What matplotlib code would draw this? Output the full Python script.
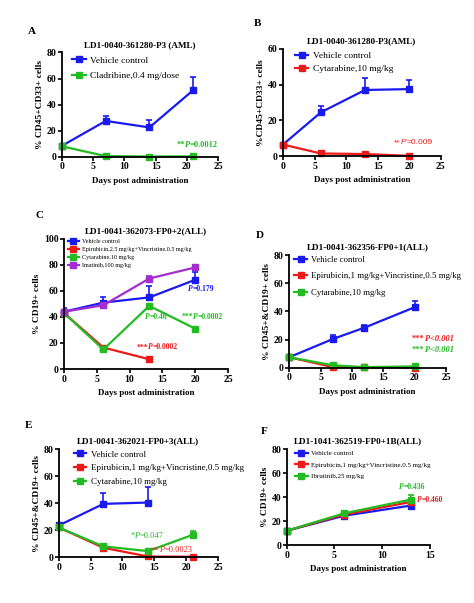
import matplotlib
matplotlib.use('Agg')
import matplotlib.pyplot as plt

plt.rcParams['font.family'] = ['Liberation Serif', 'DejaVu Serif']
plt.rcParams['font.weight'] = 'bold'

BLUE = '#1a1aee'
RED = '#ee1a1a'
GREEN = '#22bb22'
PURPLE = '#a22ed0'

# Panel A
a_days = [0, 7, 14, 21]
a_vehicle = [8.5, 27.5, 22.5, 51]
a_vehicle_err = [0.8, 4, 5.5, 10]
a_clad = [8, 0.5, 0.2, 0.3]

# Panel B
b_days = [0, 6, 13, 20]
b_vehicle = [6.5, 24.5, 37, 37.5]
b_vehicle_err = [0.5, 3.4, 6.7, 4.9]
b_cyt = [6.5, 1.5, 1.2, 0.2]

# Panel C
c_days = [0, 6, 13, 20]
c_vehicle = [44, 51, 55, 68.5]
c_vehicle_err = [2.5, 4.3, 9, 6.3]
c_epi_days = [0, 6, 13]
c_epi = [43, 16.5, 7.5]
c_cyt = [43, 15, 48.5, 31]
c_ima = [44, 49, 69.5, 78]
c_ima_err = [1, 1.5, 2.3, 1.5]

# Panel D
d_days = [0, 7, 12, 20]
d_vehicle = [7.5, 20.5, 28.5, 43]
d_vehicle_err = [0.5, 2.7, 1.9, 4.5]
d_epi = [7.5, 0.5, 0.3, 0.2]
d_cyt = [7.5, 1.8, 0.5, 1.0]

# Panel E
e_veh_days = [0, 7, 14]
e_vehicle = [23.5, 39.5, 40.5]
e_vehicle_err = [2, 7.8, 11.7]
e_days = [0, 7, 14, 21]
e_epi = [22, 7, 0.5, 0.3]
e_cyt = [22, 8, 4.5, 16.5]
e_cyt_err = [0.5, 1, 1, 3.2]

# Panel F
f_days = [0, 6, 13]
f_vehicle = [12, 24.5, 33]
f_epi = [12, 25.5, 36]
f_ibr = [12, 26.5, 38]
f_ibr_err = [0.5, 1.5, 4]

fig = plt.figure(figsize=(4.74, 6.03), dpi=100)
W, H = 474.0, 603.0


def make_ax(rect, xmax, xstep, ymax, ystep, ylabel, title, letter, letter_xy, xlabel=True):
    ax = fig.add_axes(rect)
    ax.set_xlim(0, xmax)
    ax.set_ylim(0, ymax)
    ax.set_xticks(range(0, xmax + 1, xstep))
    ax.set_yticks(range(0, ymax + 1, ystep))
    for s in ['top', 'right']:
        ax.spines[s].set_visible(False)
    for s in ['left', 'bottom']:
        ax.spines[s].set_linewidth(1.3)
    ax.tick_params(width=1.2, length=3, labelsize=7, pad=1)
    for lab in ax.get_xticklabels() + ax.get_yticklabels():
        lab.set_fontweight('bold')
    ax.set_ylabel(ylabel, fontsize=6.8, fontweight='bold', labelpad=2)
    if xlabel:
        ax.set_xlabel('Days post administration', fontsize=6.5, fontweight='bold', labelpad=4)
    ax.set_title(title, fontsize=6.6, fontweight='bold', pad=4)
    fig.text(letter_xy[0] / W, 1 - letter_xy[1] / H, letter, fontsize=8, fontweight='bold',
             ha='center', va='center')
    return ax


def series(ax, x, y, color, label, err=None):
    if err is not None:
        ax.errorbar(x, y, yerr=[[0] * len(err), err], color=color, lw=0, elinewidth=1.2,
                    capsize=2, capthick=1.2)
    ax.plot(x, y, color=color, lw=1.6, marker='s', ms=4, label=label, clip_on=False)


def rich(ax, x, y, parts, color, size, family='Liberation Serif', weight='bold'):
    # parts: list of (text, style) pieces drawn one after another
    t = ax.text(x, y, parts[0][0], color=color, fontsize=size, fontstyle=parts[0][1],
                family=family, fontweight=weight, va='bottom')
    for s, style in parts[1:]:
        t = ax.annotate(s, xy=(1, 0), xycoords=t, va='bottom', ha='left', color=color,
                        fontsize=size, fontstyle=style, family=family, fontweight=weight)


def legend(ax, anchor, size, spacing, hl=1.4):
    ax.legend(loc='upper left', bbox_to_anchor=anchor, frameon=False, handlelength=hl,
              handletextpad=0.5, labelspacing=spacing, borderaxespad=0.2,
              prop={'weight': 'normal', 'size': size, 'family': 'Liberation Serif'})


# A
ax = make_ax([0.131, 0.740, 0.329, 0.173], 25, 5, 80, 20, '% CD45+CD33+ cells',
             'LD1-0040-361280-P3 (AML)', 'A', (32, 32))
series(ax, a_days, a_vehicle, BLUE, 'Vehicle control', a_vehicle_err)
series(ax, a_days, a_clad, GREEN, 'Cladribine,0.4 mg/dose')
legend(ax, (0.03, 1.02), 6.8, 0.75)
rich(ax, 18.3, 6, [('**', 'normal'), ('P', 'italic'), ('=0.0012', 'normal')], GREEN, 6)

# B
ax = make_ax([0.597, 0.741, 0.333, 0.178], 25, 5, 60, 20, '%CD45+CD33+ cells',
             'LD1-0040-361280-P3(AML)', 'B', (258, 24))
series(ax, b_days, b_vehicle, BLUE, 'Vehicle control', b_vehicle_err)
series(ax, b_days, b_cyt, RED, 'Cytarabine,10 mg/kg')
legend(ax, (0.04, 1.03), 6.8, 0.5)
rich(ax, 17.6, 5.5, [('**', 'normal'), ('P', 'italic'), ('=0.009', 'normal')], RED, 6,
     family='Liberation Sans', weight='normal')

# C
ax = make_ax([0.135, 0.388, 0.346, 0.216], 25, 5, 100, 20, '% CD19+ cells',
             'LD1-0041-362073-FP0+2(ALL)', 'C', (40, 216))
series(ax, c_days, c_vehicle, BLUE, 'Vehicle control', c_vehicle_err)
series(ax, c_epi_days, c_epi, RED, 'Epirubicin,2.5 mg/kg+Vincristine,0.5 mg/kg')
series(ax, c_days, c_cyt, GREEN, 'Cytarabine,10 mg/kg')
series(ax, c_days, c_ima, PURPLE, 'Imatinib,100 mg/kg', c_ima_err)
legend(ax, (0.0, 1.03), 4.4, 0.45, hl=1.8)
rich(ax, 18.9, 58, [('P', 'italic'), ('=0.179', 'normal')], BLUE, 5.5)
rich(ax, 12.4, 37, [('P', 'italic'), ('=0.46', 'normal')], GREEN, 5.5)
rich(ax, 17.9, 37, [('***', 'normal'), ('P', 'italic'), ('=0.0002', 'normal')], GREEN, 5.5)
rich(ax, 11.1, 13.5, [('***', 'normal'), ('P', 'italic'), ('=0.0002', 'normal')], RED, 5.5)

# D
ax = make_ax([0.610, 0.390, 0.331, 0.187], 25, 5, 80, 20, '% CD45+&CD19+ cells',
             'LD1-0041-362356-FP0+1(ALL)', 'D', (260, 236))
series(ax, d_days, d_vehicle, BLUE, 'Vehicle control', d_vehicle_err)
series(ax, d_days, d_epi, RED, 'Epirubicin,1 mg/kg+Vincristine,0.5 mg/kg')
series(ax, d_days, d_cyt, GREEN, 'Cytarabine,10 mg/kg')
legend(ax, (0.0, 1.04), 6.3, 0.95)
rich(ax, 19.6, 17.5, [('***', 'normal'), ('P<0.001', 'italic')], RED, 6)
rich(ax, 19.6, 10, [('***', 'normal'), ('P<0.001', 'italic')], GREEN, 6)

# E
ax = make_ax([0.124, 0.076, 0.336, 0.179], 25, 5, 80, 20, '% CD45+&CD19+ cells',
             'LD1-0041-362021-FP0+3(ALL)', 'E', (29, 425), xlabel=False)
series(ax, e_veh_days, e_vehicle, BLUE, 'Vehicle control', e_vehicle_err)
series(ax, e_days, e_epi, RED, 'Epirubicin,1 mg/kg+Vincristine,0.5 mg/kg')
series(ax, e_days, e_cyt, GREEN, 'Cytarabine,10 mg/kg', e_cyt_err)
legend(ax, (0.06, 1.04), 6.5, 0.6)
rich(ax, 11.2, 13, [('*', 'normal'), ('P', 'italic'), ('=0.047', 'normal')], GREEN, 6,
     weight='normal')
rich(ax, 14.4, 2, [('**', 'normal'), ('P', 'italic'), ('=0.0023', 'normal')], RED, 6,
     weight='normal')

# F
ax = make_ax([0.605, 0.096, 0.302, 0.159], 15, 5, 80, 20, '% CD19+ cells',
             'LD1-1041-362519-FP0+1B(ALL)', 'F', (264, 432))
series(ax, f_days, f_vehicle, BLUE, 'Vehicle control')
series(ax, f_days, f_epi, RED, 'Epirubicin,1 mg/kg+Vincristine,0.5 mg/kg')
series(ax, f_days, f_ibr, GREEN, 'Ibrutinib,25 mg/kg', f_ibr_err)
legend(ax, (0.03, 1.03), 5, 0.8, hl=1.8)
rich(ax, 11.8, 45, [('P', 'italic'), ('=0.436', 'normal')], GREEN, 5.5)
rich(ax, 13.6, 34.5, [('P', 'italic'), ('=0.460', 'normal')], RED, 5.5)

fig.savefig('out.png', dpi=100)
